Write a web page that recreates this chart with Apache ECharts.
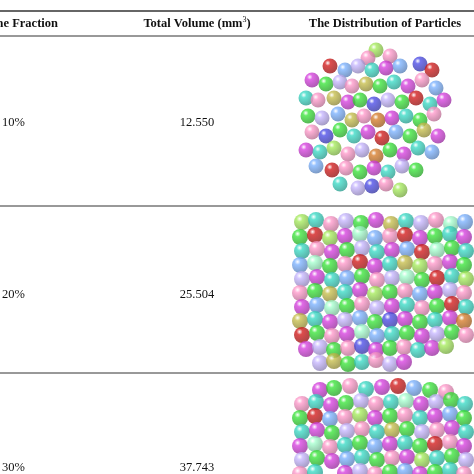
<!DOCTYPE html>
<html><head><meta charset="utf-8">
<script src="https://cdn.jsdelivr.net/npm/echarts@6/dist/echarts.min.js"></script>
<style>html,body{margin:0;padding:0;background:#fff}#c{width:474px;height:474px}</style>
</head><body><div id="c"></div>
<script>
const headers = ['Volume Fraction', 'Total Volume (mm', '3', ')', 'The Distribution of Particles'];
const fractions = ['10%', '20%', '30%'];
const volumes = ['12.550', '25.504', '37.743'];
const palette = ['#3fe63f','#d844e0','#ff9ccc','#3fdcc8','#7fb4ff','#c8b8ff','#d42020','#c8c050','#d88030','#5050e8','#a8ffd0','#a8ec60'];
const cube1 = [[376,50,11],[368,58,2],[390,56,2],[330,66,6],[345,70,4],[358,66,5],[372,70,3],[386,68,1],[400,66,4],[420,64,9],[432,70,6],
[312,80,1],[326,84,0],[340,82,5],[352,86,2],[366,84,7],[380,86,0],[394,82,3],[408,86,1],[422,80,2],[436,88,4],
[306,98,3],[318,100,2],[334,98,7],[348,102,1],[360,100,0],[374,104,9],[388,100,5],[402,102,0],[416,98,6],[430,104,3],[444,100,1],
[308,116,0],[322,118,5],[338,114,4],[352,120,7],[364,116,2],[378,120,8],[392,118,1],[406,116,3],[420,120,0],[434,114,2],
[312,132,2],[326,136,9],[340,130,0],[354,136,3],[368,132,1],[382,138,6],[396,132,4],[410,136,0],[424,130,7],[438,136,1],
[306,150,1],[320,152,3],[334,148,11],[348,154,2],[362,150,5],[376,156,8],[390,150,0],[404,154,1],[418,148,3],[432,152,4],
[316,166,4],[332,170,6],[346,168,2],[360,172,0],[374,168,1],[388,172,3],[402,166,5],[416,170,0],
[340,184,3],[358,188,5],[372,186,9],[386,184,2],[400,190,11]];
const cube2 = [[302,222,11],[316,220,3],[331,224,2],[346,221,5],[361,223,0],[376,220,1],[391,224,7],[406,221,3],[421,223,5],[436,220,2],[451,224,10],[465,222,4],
[300,237,0],[315,235,6],[330,238,11],[345,236,1],[360,234,10],[375,238,4],[390,236,2],[405,235,6],[420,238,1],[435,236,0],[450,234,3],[464,237,1],
[302,251,3],[317,249,2],[332,252,1],[347,250,0],[362,248,5],[377,252,3],[392,250,1],[407,249,4],[422,252,6],[437,250,10],[452,248,0],[466,251,3],
[300,265,4],[315,263,10],[330,266,0],[345,264,2],[360,262,6],[375,266,1],[390,264,3],[405,263,7],[420,266,11],[435,264,2],[450,262,1],[464,265,0],
[302,279,5],[317,277,1],[332,280,3],[347,278,4],[362,276,0],[377,280,2],[392,278,5],[407,277,10],[422,280,0],[437,278,6],[452,276,3],[466,279,11],
[300,293,2],[315,291,0],[330,294,7],[345,292,3],[360,290,1],[375,294,11],[390,292,0],[405,291,2],[420,294,4],[435,292,1],[450,290,5],[464,293,2],
[302,307,1],[317,305,4],[332,308,10],[347,306,0],[362,304,2],[377,308,5],[392,306,1],[407,305,3],[422,308,2],[437,306,0],[452,304,6],[466,307,3],
[300,321,7],[315,319,3],[330,322,1],[345,320,5],[360,318,4],[375,322,0],[390,320,9],[405,319,1],[420,322,0],[435,320,3],[450,318,1],[464,321,8],
[302,335,6],[317,333,0],[332,336,2],[347,334,1],[362,332,10],[377,336,4],[392,334,3],[407,333,0],[422,336,1],[437,334,5],[452,332,0],[466,335,2],
[306,349,1],[320,347,5],[334,350,0],[348,348,2],[362,346,9],[376,350,1],[390,348,0],[404,347,2],[418,350,3],[432,348,1],[446,346,11],
[320,363,5],[334,361,7],[348,364,0],[362,362,3],[376,360,2],[390,364,5],[404,362,1]];
const cube3 = [[320,390,1],[334,388,0],[350,386,2],[366,389,3],[382,387,1],[398,386,6],[414,388,4],[430,390,0],[446,392,2],
[302,404,2],[316,402,3],[331,405,1],[346,403,0],[361,401,5],[376,404,2],[391,402,3],[406,401,10],[421,404,1],[436,402,5],[451,400,0],[465,404,3],
[300,418,0],[315,416,6],[330,419,4],[345,417,2],[360,415,11],[375,418,1],[390,416,0],[405,415,2],[420,418,3],[435,416,1],[450,414,4],[464,418,0],
[302,432,3],[317,430,1],[332,433,0],[347,431,5],[362,429,2],[377,432,3],[392,430,7],[407,429,0],[422,432,5],[437,430,2],[452,428,1],[466,432,3],
[300,446,1],[315,444,10],[330,447,2],[345,445,3],[360,443,0],[375,446,4],[390,444,1],[405,443,3],[420,446,0],[435,444,6],[450,442,2],[464,446,1],
[302,460,5],[317,458,0],[332,461,1],[347,459,4],[362,457,3],[377,460,0],[392,458,2],[407,457,1],[422,460,11],[437,458,3],[452,456,0],[466,460,5],
[300,474,2],[315,472,3],[330,475,0],[345,473,1],[360,471,5],[375,474,2],[390,472,0],[405,471,4],[420,474,1],[435,472,0],[450,470,3],[464,474,2]];

function shade(hex, f){const n=parseInt(hex.slice(1),16);let r=n>>16,g=(n>>8)&255,b=n&255;
 r=Math.round(r*f);g=Math.round(g*f);b=Math.round(b*f);return 'rgb('+r+','+g+','+b+')';}
function toData(arr){return arr.map(p=>({value:[p[0],p[1]],itemStyle:{color:new echarts.graphic.RadialGradient(0.35,0.3,0.75,[
 {offset:0,color:'#ffffff'},{offset:0.25,color:palette[p[2]]},{offset:1,color:shade(palette[p[2]],0.7)}])}}));}

const chart = echarts.init(document.getElementById('c'));
const font = {fontFamily:'"Liberation Serif", serif', fontSize:12.5, fill:'#111'};
const rowY = [123, 295, 468];
const g = [];
function line(y,w){g.push({type:'line',shape:{x1:0,y1:y,x2:474,y2:y},style:{stroke:'#333',lineWidth:w}});}
line(11,1.6); line(36,1); line(206,1); line(373,1);
g.push({type:'text',x:58,y:24,style:Object.assign({},font,{text:headers[0],align:'right',verticalAlign:'middle',fontWeight:'bold'})});
g.push({type:'text',x:197,y:24,style:Object.assign({},font,{text:'{b|'+headers[1]+'}{s|'+headers[2]+'}{b|'+headers[3]+'}',align:'center',verticalAlign:'middle',
 rich:{b:{fontFamily:font.fontFamily,fontSize:12.5,fontWeight:'bold',fill:'#111'},s:{fontFamily:font.fontFamily,fontSize:8,fill:'#111',verticalAlign:'top',padding:[0,0,8,0]}}})});
g.push({type:'text',x:385,y:24,style:Object.assign({},font,{text:headers[4],align:'center',verticalAlign:'middle',fontWeight:'bold'})});
fractions.forEach((f,i)=>{
 g.push({type:'text',x:25,y:rowY[i],style:Object.assign({},font,{text:f,align:'right',verticalAlign:'middle'})});
 g.push({type:'text',x:197,y:rowY[i],style:Object.assign({},font,{text:volumes[i],align:'center',verticalAlign:'middle'})});
});
const ser = (d,s)=>({type:'scatter',data:toData(d),symbolSize:s,silent:true,animation:false});
chart.setOption({
 animation:false,
 grid:{left:0,right:0,top:0,bottom:0},
 xAxis:{type:'value',min:0,max:474,show:false},
 yAxis:{type:'value',min:0,max:474,inverse:true,show:false},
 series:[ser(cube1,15),ser(cube2,16),ser(cube3,16)],
 graphic:g
});
</script></body></html>
